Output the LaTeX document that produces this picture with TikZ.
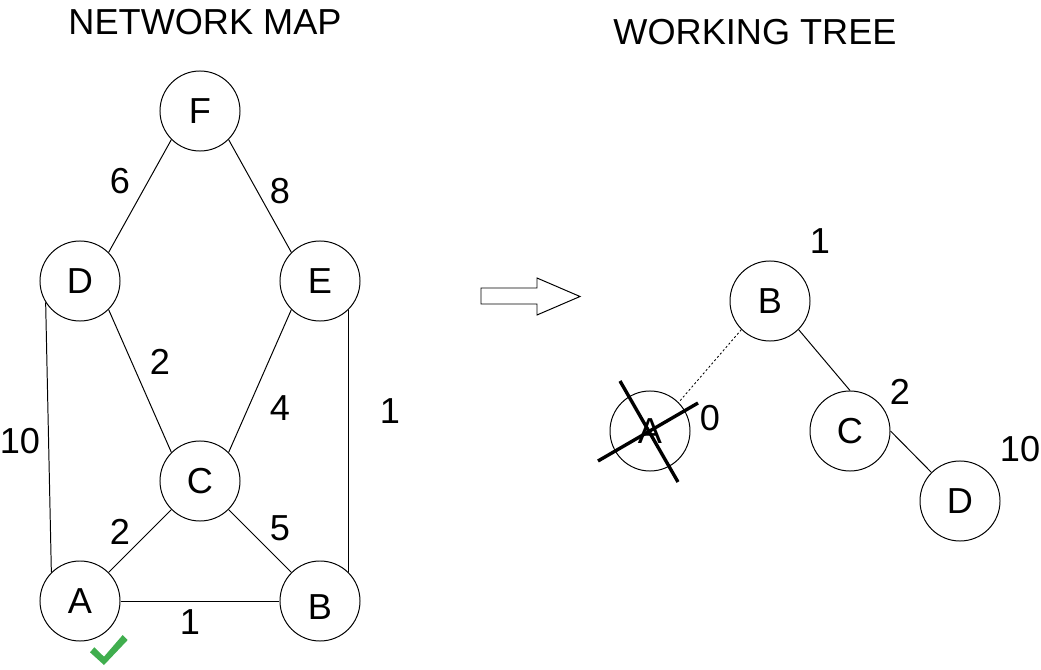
\documentclass[tikz,border=0pt]{standalone}
\usepackage{fontspec}
\setmainfont{Liberation Sans}
\usepackage{xcolor}
\usepackage{tikz}
\usetikzlibrary{arrows.meta, positioning, fit}

\definecolor{tickgreen}{RGB}{64,174,78}

\begin{document}
\begin{tikzpicture}[
                x=0.025cm, y=-0.025cm,
                router/.style={circle, draw, line width=0.7pt, fill=white, minimum size=2cm, inner sep=0pt},
                link/.style={draw, line width=0.7pt},
                backlink/.style={draw, line width=0.6pt, dash pattern=on 1.5pt off 1.6pt},
                cross/.style={draw, line width=2.4pt},
                blockarrow/.style={draw, line width=0.7pt, fill=white},
                tick/.style={fill=tickgreen},
                every node/.style={font=\fontsize{25.7}{30}\selectfont}
            ]
            \useasboundingbox (0, 0) rectangle (1041, 670);

            % Titles
            \node (maptitle) at (205, 22) {NETWORK MAP};
            \node (treetitle) at (755, 32) {WORKING TREE};

            % Network map
            \node[router] (F) at (200, 111) {F};
            \node[router] (D) at (80, 281) {D};
            \node[router] (E) at (320, 281) {E};
            \node[router] (C) at (200, 481) {C};
            \node[router] (A) at (80, 601) {A};
            \node[router] (B) at (320, 601) {\raisebox{-4.3pt}[18.4pt][0pt]{B}};

            % Links
            \draw[link] (F.south west) -- (D.north east);
            \draw[link] (F.south east) -- (E.north west);
            \draw[link] (D.south east) -- (C.north west);
            \draw[link] (E.south west) -- (C.north east);
            \draw[link] (D.212) -- (A.north west);
            \draw[link] (E.south east) -- (B.north east);
            \draw[link] (C.south west) -- (A.north east);
            \draw[link] (C.south east) -- (B.north west);
            \draw[link] (A.east) -- (B.west);

            % Link costs
            \node (fd) at (120, 181) {6};
            \node (fe) at (280, 191) {8};
            \node (dc) at (160, 362) {2};
            \node (ec) at (280, 408) {4};
            \node (eb) at (390, 411) {1};
            \node (da) at (20, 441) {10};
            \node (ca) at (120, 532) {2};
            \node (cb) at (280, 528) {5};
            \node (ab) at (190, 622) {1};

            % Tick under A
            \fill[tick] (94.3, 647.3) -- (104, 656.7) -- (122.7, 635) -- (127.7, 640) -- (104, 665) -- (90, 652.3) -- cycle;

            % Arrow between the two
            \draw[blockarrow] (481, 288) -- (537, 288) -- (537, 278) -- (580, 296.5) -- (537, 315) -- (537, 304) -- (481, 304) -- cycle;

            % Working tree
            \node[router] (tB) at (770, 301) {B};
            \node[router] (tA) at (650, 431) {A};
            \node[router] (tC) at (850, 431) {C};
            \node[router] (tD) at (960, 501) {D};

            \draw[backlink] (tB.south west) -- (tA.north east);
            \draw[link] (tB.south east) -- (tC.north);
            \draw[link] (tC.east) -- (tD.north west);

            % Crossed out
            \coordinate (x1) at (620, 381);
            \coordinate (x2) at (678, 482);
            \coordinate (x3) at (598, 461);
            \coordinate (x4) at (698, 403);
            \draw[cross] (x1) -- (x2);
            \draw[cross] (x3) -- (x4);

            % Tree costs
            \node (tb) at (820, 241) {1};
            \node (ta) at (710, 418) {0};
            \node (tc) at (900, 392) {2};
            \node (td) at (1020, 449) {10};
            \end{tikzpicture}
\end{document}
